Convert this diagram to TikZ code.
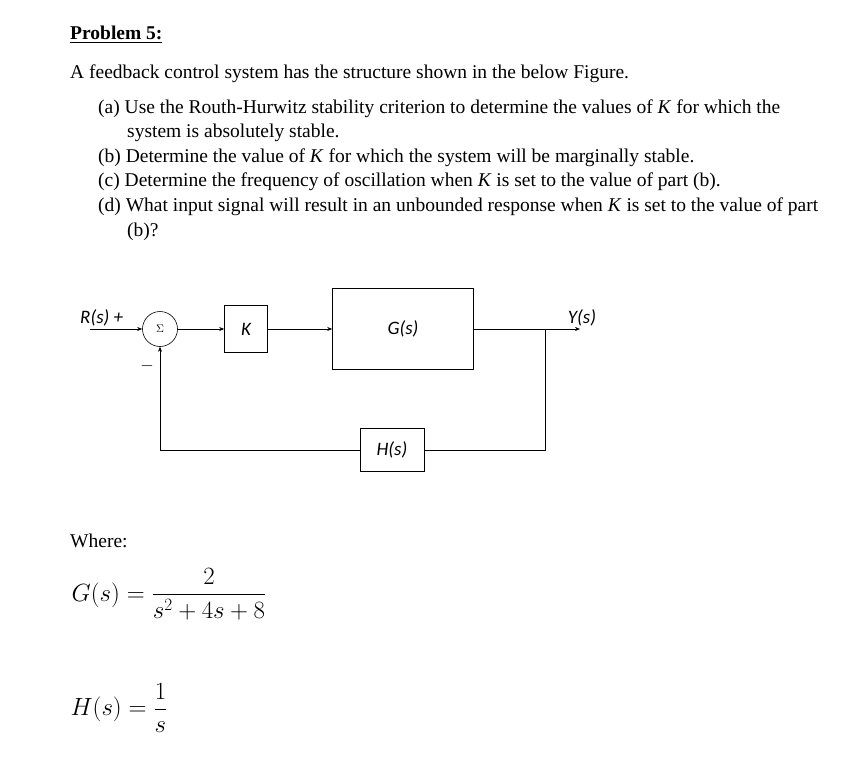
\documentclass[tikz,border=0pt]{standalone}
\usepackage{amsmath}
\usepackage{fontspec}
\setmainfont{Liberation Serif}
\newfontfamily\dsans{Carlito}
\usetikzlibrary{arrows.meta}
\begin{document}
\begin{tikzpicture}[x=1pt,y=-1pt,
  txt/.style={anchor=base west,inner sep=0pt,font=\fontsize{19.5}{22}\selectfont},
  blk/.style={draw,semithick,inner sep=0pt},
  lbl/.style={font=\dsans\itshape\fontsize{19}{22}\selectfont,inner sep=0pt},
  line/.style={semithick},
  arr/.style={semithick,-{Stealth[length=5pt,width=4pt]}}]
\useasboundingbox (0,0) rectangle (852,761);
\fill[white] (0,0) rectangle (852,761);
\node[txt] (t0) at (70,39) {\textbf{\underline{Problem 5:}}};
\node[txt] (t1) at (70,78) {A feedback control system has the structure shown in the below Figure.};
\node[txt] (t2) at (98,113) {(a) Use the Routh-Hurwitz stability criterion to determine the values of \textit{K} for which the};
\node[txt] (t3) at (127,137) {system is absolutely stable.};
\node[txt] (t4) at (98,162) {(b) Determine the value of \textit{K} for which the system will be marginally stable.};
\node[txt] (t5) at (98,186) {(c) Determine the frequency of oscillation when \textit{K} is set to the value of part (b).};
\node[txt] (t6) at (98,211) {(d) What input signal will result in an unbounded response when \textit{K} is set to the value of part};
\node[txt] (t7) at (127,236) {(b)?};
\node[txt] (t8) at (70,547) {Where:};
% diagram
\coordinate (rin) at (90,329);
\node[draw,semithick,circle,minimum size=35pt,inner sep=0pt,font=\fontsize{11}{11}\selectfont] (sum) at (160,329) {$\Sigma$};
\node[blk,minimum width=43pt,minimum height=47pt,lbl] (K) at (246,329) {K};
\node[blk,minimum width=141pt,minimum height=81pt,lbl] (G) at (403,329) {G(s)};
\node[blk,minimum width=64pt,minimum height=43pt,lbl] (H) at (392,450) {H(s)};
\coordinate (br) at (545,329);
\coordinate (yout) at (580,329);
\node[lbl,anchor=south west] (R) at (80,326) {R(s) +};
\node[lbl,anchor=south] (Y) at (582,326) {Y(s)};
\node[lbl,font=\dsans\fontsize{19}{22}\selectfont] (minus) at (147,366) {$-$};
\draw[arr] (rin) -- (sum.west);
\draw[arr] (sum.east) -- (K.west);
\draw[arr] (K.east) -- (G.west);
\draw[line] (G.east) -- (br);
\draw[arr] (br) -- (yout);
\draw[line] (br) |- (H.east);
\draw[arr] (H.west) -| (sum.south);
% equations
\node[inner sep=0pt,font=\fontsize{25}{28}\selectfont] (eqG) at (169,594) {$G(s)=\dfrac{2}{s^2+4s+8}$};
\node[inner sep=0pt,font=\fontsize{25}{28}\selectfont] (eqH) at (119,708) {$H(s)=\dfrac{1}{s}$};
\end{tikzpicture}
\end{document}
